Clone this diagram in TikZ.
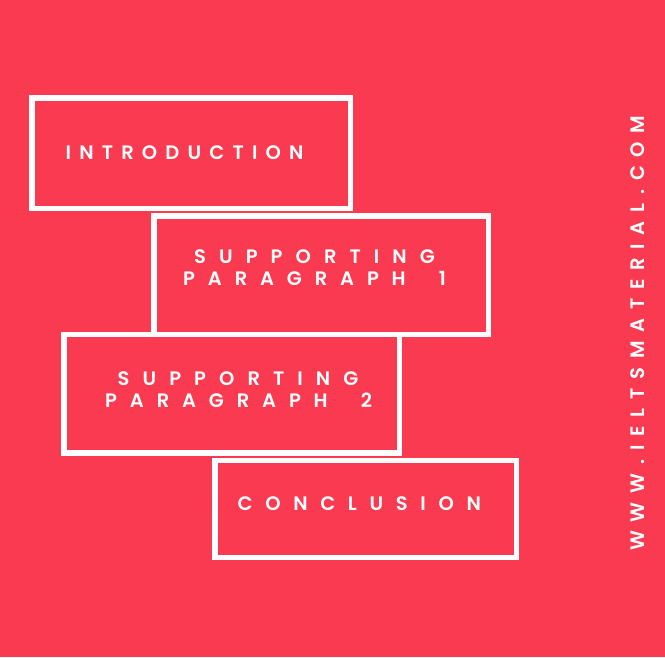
\documentclass[tikz,border=0pt]{standalone}
\usepackage{fontspec}
\setmainfont{Poppins}
\newfontfamily\labelfont[WordSpace=1.9]{Poppins SemiBold}
\definecolor{bgred}{HTML}{F93A50}
\tikzset{
  box/.style={draw=white, line width=5.5pt, fill=bgred},
  lbl/.style={anchor=base west, inner sep=0pt, text=white,
    font={\labelfont\fontsize{19.5}{22}\selectfont\addfontfeature{LetterSpace=#1}}},
}
\begin{document}
\begin{tikzpicture}[x=1pt,y=-1pt]
\useasboundingbox[fill=bgred] (0,0) rectangle (665,657);
\draw[box] (31.75,97.75) rectangle (350.25,208.25);
\draw[box] (153.75,215.75) rectangle (488.25,334.25);
\draw[box] (63.75,334.5) rectangle (399.25,453);
\draw[box] (214.75,460.25) rectangle (516.25,557.25);
\node[lbl=42] (intro) at (65.5,159.5) {INTRODUCTION};
\node[lbl=67] (sp1a) at (194,263.5) {SUPPORTING};
\node[lbl=66] (sp1b) at (183,285) {PARAGRAPH 1};
\node[lbl=67] (sp2a) at (117.5,385.8) {SUPPORTING};
\node[lbl=66] (sp2b) at (105,407.5) {PARAGRAPH 2};
\node[lbl=65] (concl) at (237.5,510) {CONCLUSION};
\node[lbl=45, rotate=90] (web) at (644,551) {WWW.IELTSMATERIAL.COM};
\end{tikzpicture}
\end{document}
